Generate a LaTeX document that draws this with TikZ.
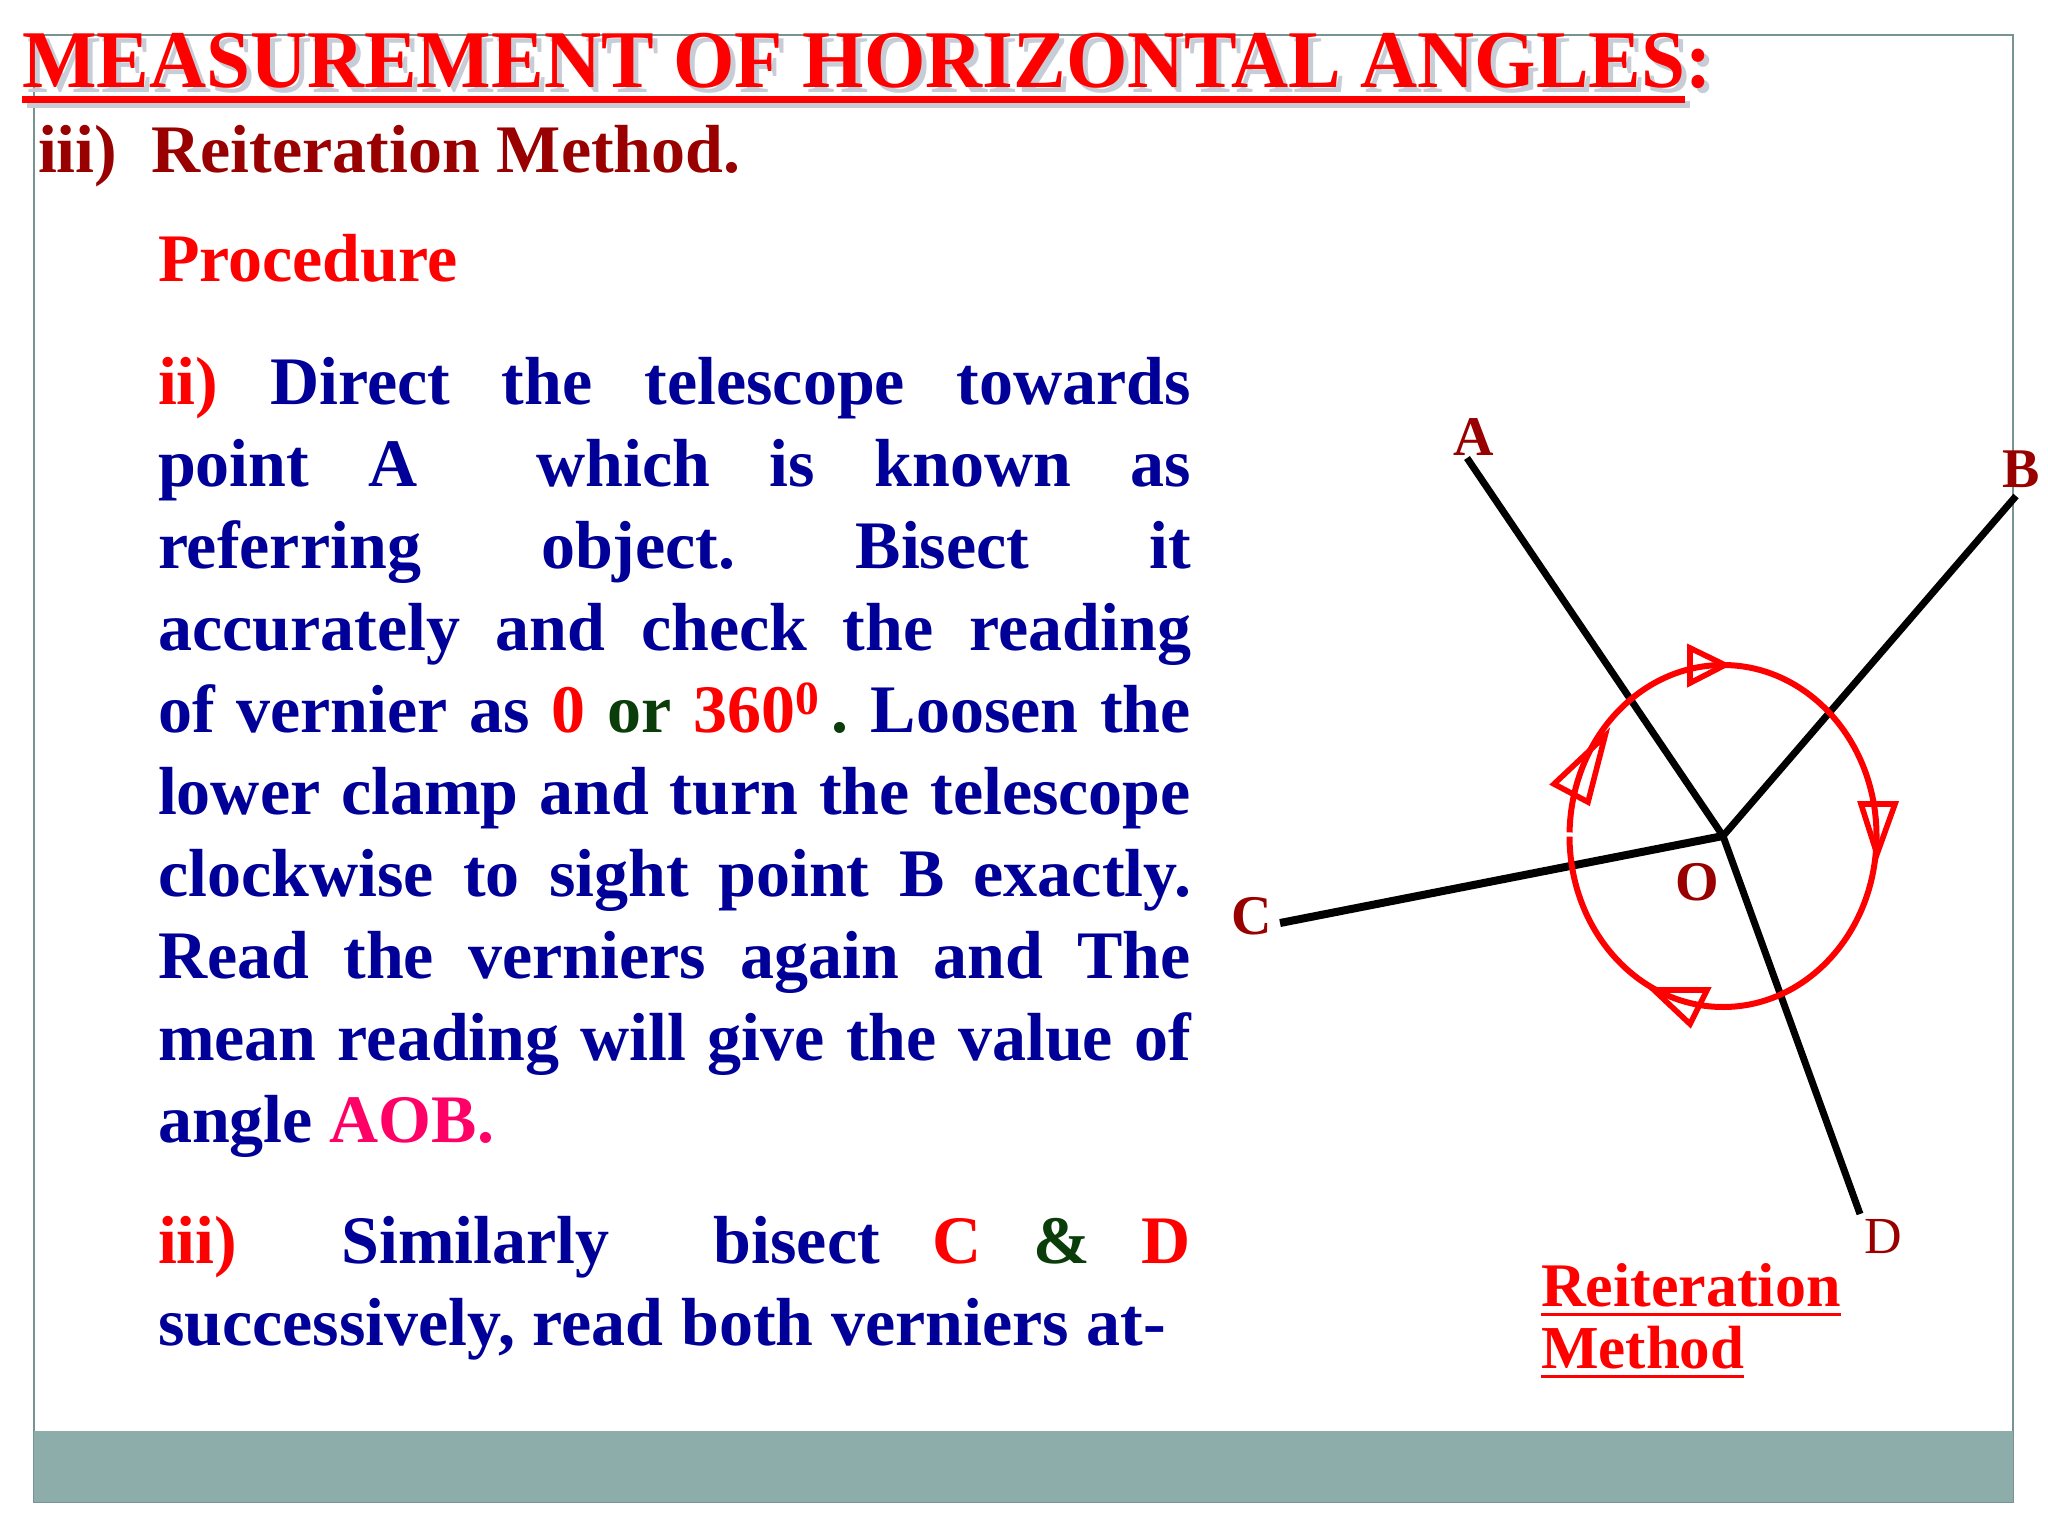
\documentclass[tikz,border=0pt]{standalone}
\usepackage{fontspec}
\setmainfont{Liberation Serif}
\definecolor{navytext}{HTML}{000099}
\definecolor{darkred}{HTML}{990000}
\definecolor{darkgreen}{HTML}{0B3D0B}
\definecolor{pinktext}{HTML}{FF0066}
\definecolor{barfill}{HTML}{8DADAB}
\definecolor{shadowgrey}{HTML}{C6CDD6}
\tikzset{
  x=0.5pt,y=-0.5pt,
  txt/.style={anchor=base west,inner sep=0pt,outer sep=0pt,font=\bfseries},
  ray/.style={draw=black,line width=3.5pt},
  loopline/.style={draw=red,line width=3pt},
  tip/.style={draw=red,line width=2.8pt,miter limit=4,line join=miter},
  pointlabel/.style={inner sep=0pt,outer sep=0pt,text=darkred,font=\bfseries\fontsize{28}{30}\selectfont},
  rulered/.style={draw=red,line width=1.5pt},
}
\newcommand{\titletext}{\scalebox{0.963}[1]{MEASUREMENT OF HORIZONTAL ANGLES:}}
\newcommand{\bodyfont}{\fontsize{34}{41.05}\selectfont\frenchspacing}
\begin{document}
\begin{tikzpicture}
\useasboundingbox (0,0) rectangle (2048,1536);
\fill[white] (0,0) rectangle (2048,1536);
% frame
\draw[draw=barfill!85!black,line width=1pt] (34,35) rectangle (2013,1502);
\fill[barfill] (34,1431) rectangle (2013,1502);
% title
\node[txt,text=shadowgrey,font=\bfseries\fontsize{41}{44}\selectfont] (titleshadow) at (27,93) {\titletext};
\fill[shadowgrey] (27,101) rectangle (1690,108);
\node[txt,text=red,font=\bfseries\fontsize{41}{44}\selectfont] (title) at (22,88) {\titletext};
\fill[red] (22,96) rectangle (1685,103);
% headings
\node[txt,text=darkred,font=\bfseries\fontsize{34}{36}\selectfont] (sub) at (38,172) {iii)\hspace{0.5em}Reiteration Method.};
\node[txt,text=red,font=\bfseries\fontsize{34}{36}\selectfont] (proc) at (158,281) {Procedure};
% body
\node[txt,text=navytext] (para1) at (158,404) {\parbox[t]{516.5pt}{\bodyfont\tolerance=9999\hbadness=10000\hfuzz=20pt\parindent=0pt\leavevmode
{\color{red}ii)} Direct the telescope towards\linebreak
point A\ \ which is known as\linebreak
referring object. Bisect it\linebreak
accurately and check the reading\linebreak
of vernier as {\color{red}0} {\color{darkgreen}or} {\color{red}360\textsuperscript{0}}\,{\color{darkgreen}.} Loosen the\linebreak
lower clamp and turn the telescope\linebreak
clockwise to sight point B exactly.\linebreak
Read the verniers again and The\linebreak
mean reading will give the value of\linebreak
angle {\color{pinktext}AOB.}\par}};
\node[txt,text=navytext] (para2) at (158,1263) {\parbox[t]{516.5pt}{\bodyfont\tolerance=9999\hbadness=10000\hfuzz=20pt\parindent=0pt\leavevmode
{\color{red}iii)}\ \ Similarly\ \ bisect {\color{red}C} {\color{darkgreen}\&} {\color{red}D}\linebreak
\makebox[504pt][s]{successively, read both verniers at-}\par}};
% diagram
\coordinate (O) at (1723,836);
\coordinate (Aend) at (1467,458);
\coordinate (Bend) at (2016,496);
\coordinate (Cend) at (1280,923);
\coordinate (Dend) at (1860,1214);
\draw[ray] (O) -- (Aend);
\draw[ray] (O) -- (Bend);
\draw[ray,line width=4pt] (O) -- (Cend);
\draw[ray] (O) -- (Dend);
\draw[loopline] (O) ++(181.2:153.5 and 171) arc [start angle=181.2,end angle=539.8,x radius=153.5,y radius=171];
\draw[tip] (1690,648) -- (1725,665) -- (1690,683) -- cycle;
\draw[tip] (1861,804) -- (1895,804) -- (1877,854) -- cycle;
\draw[tip] (1654,990) -- (1707,990) -- (1690,1024) -- cycle;
\draw[tip] (1605,736) -- (1554,784) -- (1588,802) -- cycle;
\node[pointlabel] (lA) at (1474,437) {A};
\node[pointlabel] (lB) at (2021,469) {B};
\node[pointlabel] (lC) at (1252,916) {C};
\node[pointlabel] (lO) at (1697,882) {O};
\node[pointlabel,font=\fontsize{26}{30}\selectfont] (lD) at (1883,1237) {D};
\node[txt,text=red,font=\bfseries\fontsize{31}{32}\selectfont] (cap1) at (1541,1306) {Reiteration};
\node[txt,text=red,font=\bfseries\fontsize{30.5}{32}\selectfont] (cap2) at (1541,1368) {Method};
\draw[rulered] ([yshift=-4pt]cap1.base west) -- ([yshift=-4pt]cap1.base east);
\draw[rulered] ([yshift=-4pt]cap2.base west) -- ([yshift=-4pt]cap2.base east);
\end{tikzpicture}
\end{document}
